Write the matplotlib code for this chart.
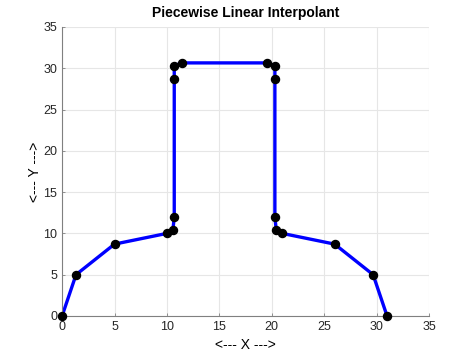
import matplotlib
matplotlib.use("Agg")
import matplotlib.pyplot as plt

# interpolant nodes
x_nodes = [0, 1.33, 5, 10, 10.57, 10.7, 10.7, 10.7, 11.43,
           19.57, 20.3, 20.3, 20.3, 20.43, 21, 26, 29.67, 31]
y_nodes = [0, 5, 8.7, 10, 10.4, 12, 28.7, 30.3, 30.65,
           30.65, 30.3, 28.7, 12, 10.4, 10, 8.7, 5, 0]
x_ticks = [0, 5, 10, 15, 20, 25, 30, 35]
y_ticks = [0, 5, 10, 15, 20, 25, 30, 35]

plt.rcParams['font.family'] = ['Liberation Sans', 'DejaVu Sans']

fig = plt.figure(figsize=(4.74, 3.55), dpi=100)
ax = fig.add_axes([0.131, 0.110, 0.774, 0.814])

ax.plot(x_nodes, y_nodes, color="#0000ff", linewidth=2.4, zorder=2)
ax.plot(x_nodes, y_nodes, "o", color="black", markersize=5.8, zorder=3, clip_on=False)

ax.set_xlim(0, 35)
ax.set_ylim(0, 35)
ax.set_xticks(x_ticks)
ax.set_yticks(y_ticks)
ax.grid(True, color="#e6e6e6", linewidth=0.8)
ax.set_axisbelow(True)
ax.tick_params(direction="in", length=2, width=0.6, labelsize=9,
               color="#808080", labelcolor="#262626")
ax.spines["top"].set_visible(False)
ax.spines["right"].set_visible(False)
for s in ("left", "bottom"):
    ax.spines[s].set_color("#808080")
    ax.spines[s].set_linewidth(0.8)

ax.set_title("Piecewise Linear Interpolant", fontsize=10, fontweight="bold", pad=7)
ax.set_xlabel("<--- X --->", fontsize=10, labelpad=4)
ax.set_ylabel("<--- Y --->", fontsize=10, labelpad=1)

fig.savefig("out.png", dpi=100)
